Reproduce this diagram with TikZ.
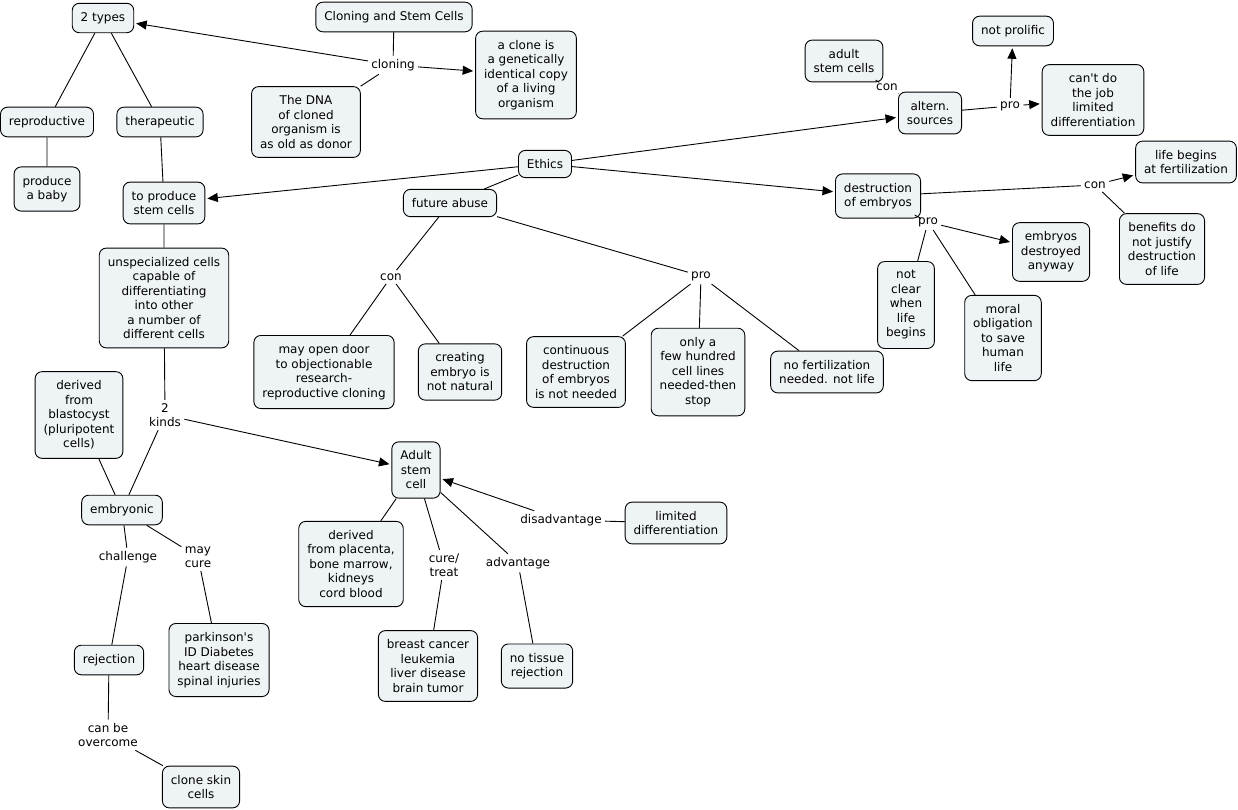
\documentclass[tikz,border=0pt]{standalone}
\usepackage{fontspec}
\setmainfont{DejaVu Sans}
\usetikzlibrary{arrows.meta}
\definecolor{cmapfill}{RGB}{238,243,246}

\begin{document}
\begin{tikzpicture}[x=1pt,y=-1pt,line width=0.9pt,
        concept/.style={draw,rounded corners=7pt,fill=cmapfill,align=center,inner xsep=8.5pt,inner ysep=9pt,font=\fontsize{12}{14.5}\selectfont},
        link/.style={align=center,inner sep=3pt,font=\fontsize{12}{14.5}\selectfont},
        arr/.style={-{Triangle[length=10.5pt,width=9pt]},shorten >=2pt}]
        \useasboundingbox (0,0) rectangle (1238,809);

        \node[concept] (title) at (394,17) {Cloning and Stem Cells};
        \node[concept] (types) at (103,18) {2 types};
        \node[link] (cloning) at (393,65) {cloning};
        \node[concept] (clone) at (526,75) {a clone is\\a genetically\\identical copy\\of a living\\organism};
        \node[concept] (dna) at (306,122) {The DNA\\of cloned\\organism is\\as old as donor};
        \node[concept] (repro) at (47,122) {reproductive};
        \node[concept] (thera) at (160,122) {therapeutic};
        \node[concept] (baby) at (47,189) {produce\\a baby};
        \node[concept] (produce) at (164,203) {to produce\\stem cells};
        \node[concept] (unspec) at (164,298) {unspecialized cells\\capable of\\differentiating\\into other\\a number of\\different cells};
        \node[link] (kinds) at (165,415) {2\\kinds};
        \node[concept] (blasto) at (79,415) {derived\\from\\blastocyst\\(pluripotent\\cells)};
        \node[concept] (embryonic) at (122,510) {embryonic};
        \node[link] (challenge) at (128,557) {challenge};
        \node[link] (maycure) at (198,557) {may\\cure};
        \node[concept] (rejection) at (109,660) {rejection};
        \node[concept] (parkinson) at (219,660) {parkinson\textquotesingle s\\ID Diabetes\\heart disease\\spinal injuries};
        \node[link] (overcome) at (108,735) {can be\\overcome};
        \node[concept] (skin) at (201,787) {clone skin\\cells};

        \node[concept] (stemcell) at (416,470) {Adult\\stem\\cell};
        \node[concept] (placenta) at (351,564) {derived\\from placenta,\\bone marrow,\\kidneys\\cord blood};
        \node[link] (cure) at (444,565) {cure/\\treat};
        \node[link] (advantage) at (518,563) {advantage};
        \node[link] (disadv) at (561,520) {disadvantage};
        \node[concept] (limited) at (676,523) {limited\\differentiation};
        \node[concept] (cancer) at (428,666) {breast cancer\\leukemia\\liver disease\\brain tumor};
        \node[concept] (tissue) at (537,666) {no tissue\\rejection};

        \node[concept] (ethics) at (545,164) {Ethics};
        \node[concept] (abuse) at (450,203) {future abuse};
        \node[link] (con1) at (391,277) {con};
        \node[link] (pro1) at (701,276) {pro};
        \node[concept] (door) at (324,372) {may open door\\to objectionable\\research-\\reproductive cloning};
        \node[concept] (natural) at (460,372) {creating\\embryo is\\not natural};
        \node[concept] (contin) at (576,372) {continuous\\destruction\\of embryos\\is not needed};
        \node[concept] (few) at (698,372) {only a\\few hundred\\cell lines\\needed-then\\stop};
        \node[concept] (nofert) at (827,372) {no fertilization\\needed. not life};

        \node[concept] (adult) at (844,61) {adult\\stem cells};
        \node[link] (con2) at (887,87) {con};
        \node[concept] (altern) at (930,113) {altern.\\sources};
        \node[link] (pro2) at (1010,106) {pro};
        \node[concept] (prolific) at (1013,31) {not prolific};
        \node[concept] (cantdo) at (1093,100) {can\textquotesingle t do\\the job\\limited\\differentiation};

        \node[concept] (destr) at (878,196) {destruction\\of embryos};
        \node[link] (con3) at (1095,185) {con};
        \node[link] (pro3) at (928,222) {pro};
        \node[concept] (life) at (1186,162) {life begins\\at fertilization};
        \node[concept] (benefits) at (1162,249) {benefits do\\not justify\\destruction\\of life};
        \node[concept] (anyway) at (1051,252) {embryos\\destroyed\\anyway};
        \node[concept] (notclear) at (906,305) {not\\clear\\when\\life\\begins};
        \node[concept] (moral) at (1003,338) {moral\\obligation\\to save\\human\\life};

        \draw (title) -- (cloning) (cloning) -- (dna) (types) -- (repro) (types) -- (thera)
        (repro) -- (baby) (thera) -- (produce) (produce) -- (unspec) (unspec) -- (kinds)
        (kinds) -- (embryonic) (blasto) -- (embryonic) (embryonic) -- (challenge) (challenge) -- (rejection)
        (embryonic) -- (maycure) (maycure) -- (parkinson) (rejection) -- (overcome) (overcome) -- (skin)
        (stemcell) -- (placenta) (stemcell) -- (cure) (cure) -- (cancer) (stemcell) -- (advantage)
        (advantage) -- (tissue) (limited) -- (disadv) (ethics) -- (abuse) (abuse) -- (con1)
        (con1) -- (door) (con1) -- (natural) (abuse) -- (pro1) (pro1) -- (contin) (pro1) -- (few)
        (pro1) -- (nofert) (adult) -- (con2) (con2) -- (altern) (altern) -- (pro2) (destr) -- (con3)
        (con3) -- (benefits) (destr) -- (pro3) (pro3) -- (notclear) (pro3) -- (moral);
        \draw[arr] (cloning) edge (types) edge (clone) (ethics) edge (produce) edge (altern) edge (destr)
        (kinds) edge (stemcell) (disadv) edge (stemcell) (pro2) edge (prolific) edge (cantdo)
        (con3) edge (life) (pro3) edge (anyway);
\end{tikzpicture}
\end{document}
